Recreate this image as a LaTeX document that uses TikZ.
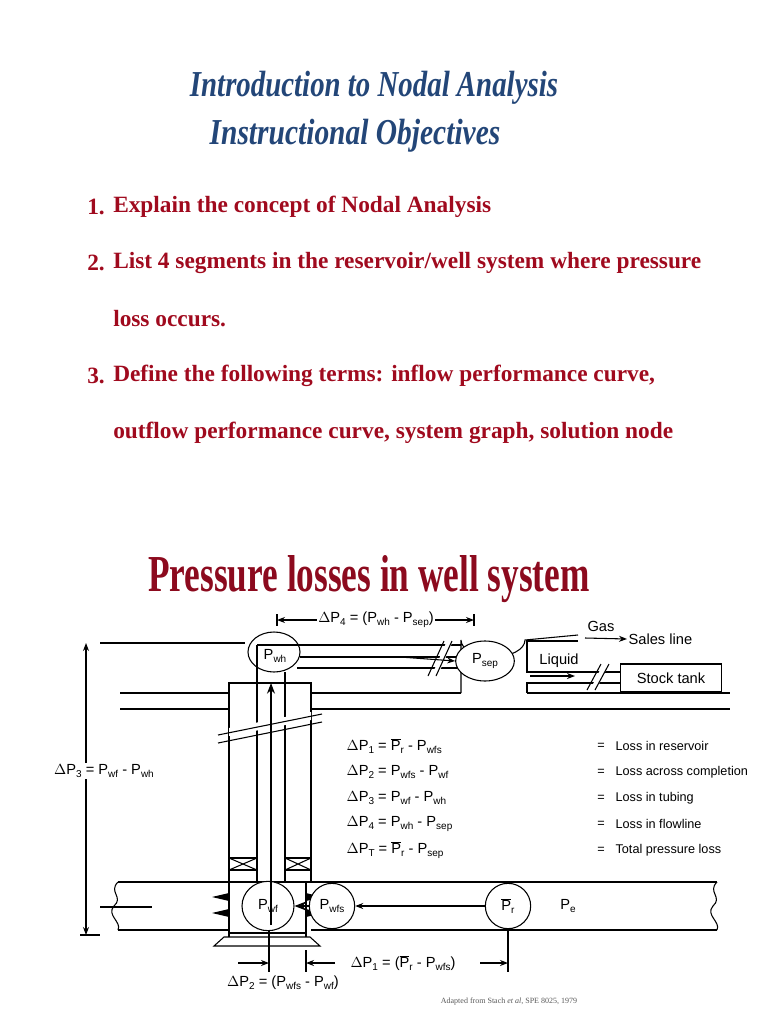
\documentclass[tikz,border=0pt]{standalone}
\usepackage{fontspec}
\setmainfont{Liberation Serif}
\newfontfamily\dsans{Liberation Sans}
\usetikzlibrary{arrows.meta,shapes.geometric}
\definecolor{objred}{RGB}{160,10,30}
\definecolor{tblue}{RGB}{35,70,120}
\definecolor{tred}{RGB}{140,10,30}
\newcommand{\sbs}[1]{\raisebox{-0.4ex}{\fontsize{7.5}{8}\selectfont #1}}
\newcommand{\Pbar}{\ensuremath{\overline{\mbox{P}}}}
\begin{document}
\begin{tikzpicture}[x=0.75pt,y=-0.75pt,
  lab/.style={font=\dsans\fontsize{11}{12}\selectfont, inner sep=1pt},
  dsc/.style={font=\dsans\fontsize{9.5}{11}\selectfont, inner sep=1pt},
  obj/.style={font=\bfseries\fontsize{17.5}{20}\selectfont, text=objred, anchor=west, inner sep=0pt},
  ln/.style={line width=0.8pt},
  pc/.style={draw, ln, ellipse, fill=white, inner sep=0pt},
  arr/.style={ln,-{Stealth[length=6pt]}}]
\useasboundingbox (0,0) rectangle (768,1024);
% titles
\node[text=tblue] (t1) at (374,88) {\resizebox{276pt}{19pt}{\bfseries\itshape Introduction to Nodal Analysis}};
\node[text=tblue] (t2) at (355,136) {\resizebox{218pt}{19pt}{\bfseries\itshape Instructional Objectives}};
% objectives
\node[obj] (n1) at (87,207) {1.};
\node[obj] (o1) at (113,207) {Explain the concept of Nodal Analysis};
\node[obj] (n2) at (87,263) {2.};
\node[obj] (o2) at (113,263) {List 4 segments in the reservoir/well system where pressure};
\node[obj] (o2b) at (113,319) {loss occurs.};
\node[obj] (n3) at (87,376) {3.};
\node[obj] (o3) at (113,376) {Define the following terms: inflow performance curve,};
\node[obj] (o3b) at (113,433) {outflow performance curve, system graph, solution node};
% pressure title
\node[text=tred] (t3) at (369,579) {\resizebox{331pt}{27pt}{\bfseries Pressure losses in well system}};
% surface lines
\draw[ln] (100,643) -- (245,643);
\draw[ln] (120,693) -- (229,693) (311,693) -- (461,693) (527,693) -- (730,693);
\draw[ln] (120,709) -- (229,709) (311,709) -- (730,709);
% casing & tubing
\draw[ln] (229,683) rectangle (311,882);
\draw[ln] (257,645) -- (257,882) (285,672) -- (285,882);
\fill[white] (229,728) -- (311,712) -- (311,720) -- (229,736) -- cycle;
\draw[ln] (218,735) -- (322,714) (218,743) -- (322,722);
% packers
\foreach \xa/\xb in {229/257,285/311}{
  \draw[ln] (\xa,858) rectangle (\xb,870);
  \draw[ln] (\xa,858) -- (\xb,870) (\xa,870) -- (\xb,858);}
% flowline
\draw[ln] (257,645) -- (461,645) (300,657) -- (461,657) (297,668) -- (461,668);
\fill[white] (432,675) -- (446,643) -- (452,643) -- (438,675) -- cycle;
\draw[ln] (428,676) -- (444,641) (436,676) -- (452,641);
% separator
\draw[ln] (461,693) -- (461,640) arc (180:0:32 and 17) -- (578,635);
\draw[ln] (578,641) -- (527,641) -- (527,672) -- (620,672);
\draw[ln] (620,683) -- (527,683) -- (527,693);
\fill[white] (590,690) -- (602,666) -- (608,666) -- (596,690) -- cycle;
\draw[ln] (587,690) -- (601,664) (595,690) -- (609,664);
\node[pc, minimum width=44pt, minimum height=30pt] (psep) at (485,661) {};
\node[lab] at (psep) {P\sbs{sep}};
\node[draw, ln, minimum width=76pt, minimum height=21pt, inner sep=0pt, lab] (tank) at (671,678) {Stock tank};
\node[lab] (gas) at (601,626) {Gas};
\node[lab, anchor=west] (sales) at (627,639) {Sales line};
\node[lab] (liq) at (559,661) {Liquid};
\draw[arr] (585,638) -- (sales.west);
\draw[arr] (530,676) -- (575,676);
\draw[arr] (400,657) -- (psep.west);
% wellhead circle
\node[pc, minimum width=39pt, minimum height=30pt, fill=none] (pwh) at (274,652) {};
\node[lab] at (275,656) {P\sbs{wh}};
% reservoir
\draw[ln] (100,907) -- (152,907);
\draw[ln] (118,882) -- (229,882) (311,882) -- (717,882);
\draw[ln] (118,930) -- (229,930) (311,930) -- (717,930);
\draw[ln] (118,882) .. controls (108,892) and (124,897) .. (114,906) .. controls (106,915) and (122,922) .. (118,930);
\draw[ln] (717,882) .. controls (707,892) and (723,897) .. (713,906) .. controls (705,915) and (721,922) .. (717,930);
\draw[ln] (229,882) -- (229,946) (306,882) -- (306,946);
\draw[ln] (229,933) -- (306,933);
\draw[ln, fill=white] (214,946) -- (320,946) -- (310,937) -- (224,937) -- cycle;
\foreach \yy in {897,913}{
  \fill (229,\yy-4) -- (212,\yy) -- (229,\yy+4) -- cycle;
  \fill (306,\yy-4) -- (322,\yy) -- (306,\yy+4) -- cycle;}
\node[pc, minimum width=39pt, minimum height=37pt] (pwf) at (268,906) {};
\node[lab] at (pwf) {P\sbs{wf}};
\node[pc, minimum width=34pt, minimum height=34pt] (pwfs) at (332,906) {};
\node[lab] at (pwfs) {P\sbs{wfs}};
\node[pc, minimum width=34pt, minimum height=34pt] (pr) at (508,906) {};
\node[lab] at (pr) {\Pbar\sbs{r}};
\node[lab] (pe) at (568,906) {P\sbs{e}};
\draw[arr] (pr.west) -- (pwfs.east);
\draw[ln,-{Stealth[length=9pt,width=7pt]}] (pwfs.west) -- (pwf.east);
\draw[ln] (pr.south) -- (508,972);
\draw[ln] (269,931) -- (269,972);
% vertical flow arrow
\draw[ln, -{Stealth[length=8pt]}] (271,925) -- (271,683);
% dimensions
\draw[ln] (277,614) -- (277,626) (474,614) -- (474,626);
\node[lab] (dp4) at (376,620) {$\Delta$P\sbs{4} = (P\sbs{wh} - P\sbs{sep})};
\draw[arr] (dp4.west) -- (277,620);
\draw[arr] (dp4.east) -- (474,620);
\draw[ln, {Stealth[length=6pt]}-{Stealth[length=6pt]}] (86,643) -- (86,935);
\draw[ln] (80,935) -- (100,935);
\node[lab, fill=white] (dp3) at (104,771) {$\Delta$P\sbs{3} = P\sbs{wf} - P\sbs{wh}};
\draw[ln] (306,950) -- (306,972);
\node[lab] (dp1) at (403,963) {$\Delta$P\sbs{1} = (\Pbar\sbs{r} - P\sbs{wfs})};
\draw[arr] (238,963) -- (269,963);
\draw[arr] (335,963) -- (306,963);
\draw[arr] (480,963) -- (508,963);
\node[lab] (dp2) at (283,983) {$\Delta$P\sbs{2} = (P\sbs{wfs} - P\sbs{wf})};
% equations
\foreach \yy/\eq/\tx in {746/{$\Delta$P\sbs{1} = \Pbar\sbs{r} - P\sbs{wfs}}/{Loss in reservoir},
  772/{$\Delta$P\sbs{2} = P\sbs{wfs} - P\sbs{wf}}/{Loss across completion},
  798/{$\Delta$P\sbs{3} = P\sbs{wf} - P\sbs{wh}}/{Loss in tubing},
  824/{$\Delta$P\sbs{4} = P\sbs{wh} - P\sbs{sep}}/{Loss in flowline},
  850/{$\Delta$P\sbs{T} = \Pbar\sbs{r} - P\sbs{sep}}/{Total pressure loss}}{
  \node[lab, anchor=west] at (345,\yy) {\eq};
  \node[dsc] at (601,\yy) {=};
  \node[dsc, anchor=west] at (614,\yy) {\tx};}
\node[font=\fontsize{6}{7}\selectfont, text=gray!70!black] (cap) at (509,1002) {Adapted from Stach \textit{et al}, SPE 8025, 1979};
\end{tikzpicture}
\end{document}
